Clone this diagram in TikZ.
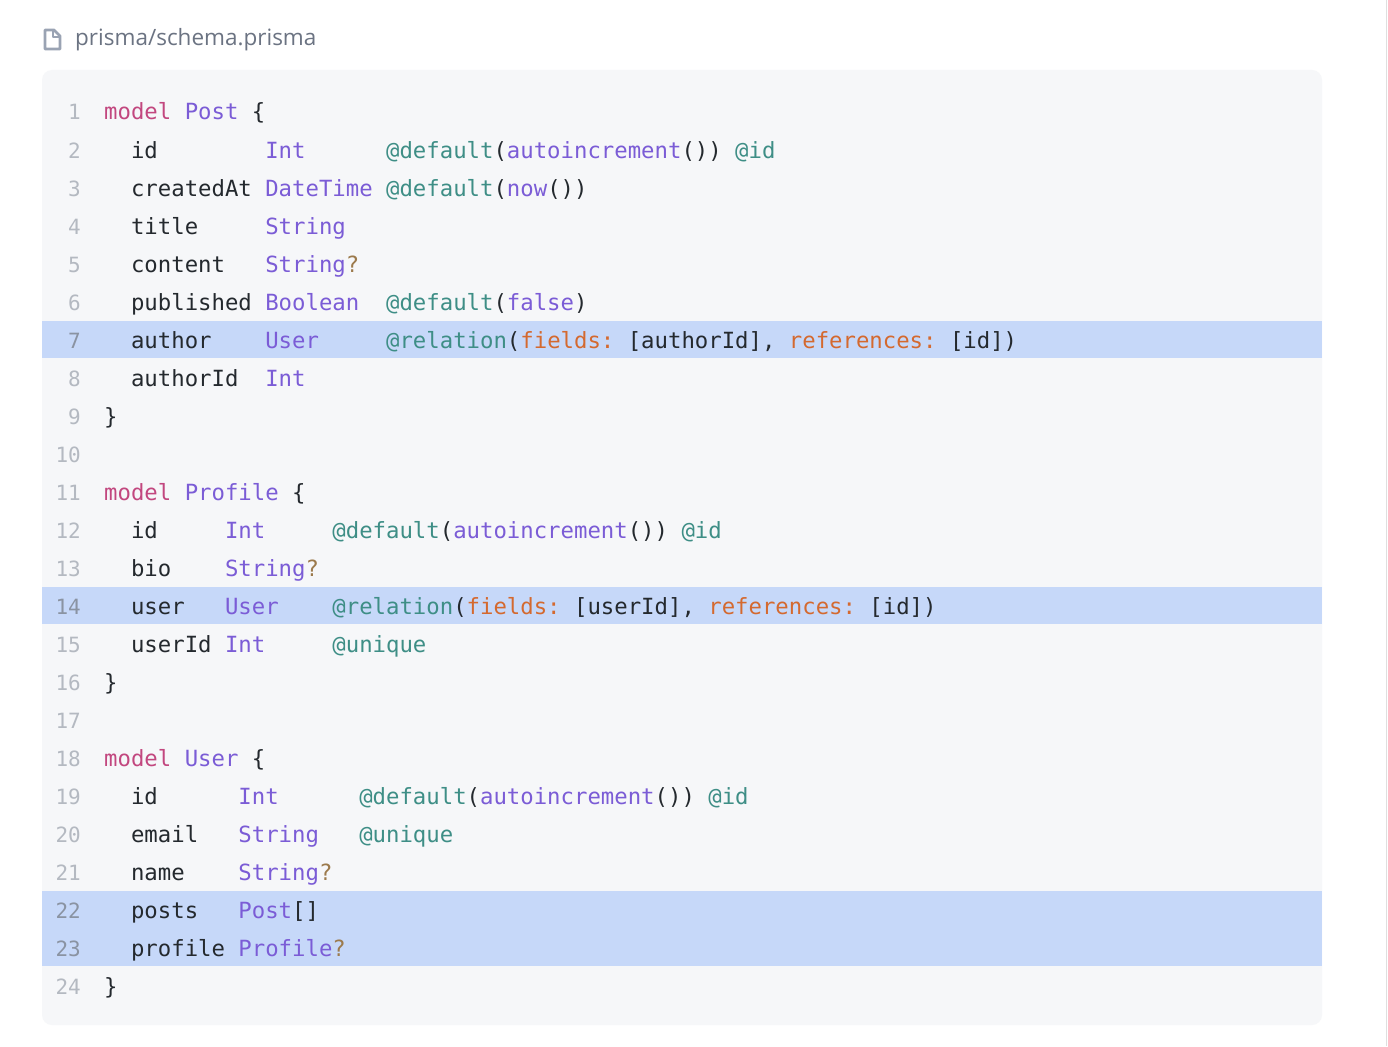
\documentclass[tikz,border=0pt]{standalone}
\usepackage{fontspec}
\setmainfont{Open Sans}
\setmonofont{DejaVu Sans Mono}
\definecolor{K}{HTML}{C2477F}
\definecolor{T}{HTML}{7B5CD6}
\definecolor{A}{HTML}{3E8E86}
\definecolor{F}{HTML}{D4692F}
\definecolor{Q}{HTML}{9C7A4C}
\definecolor{D}{HTML}{24292E}
\definecolor{N}{HTML}{B4B9C1}
\definecolor{NH}{HTML}{8A93A2}
\definecolor{HL}{HTML}{C6D8F9}
\definecolor{BG}{HTML}{F6F7F9}
\definecolor{HD}{HTML}{6B7382}
\definecolor{IC}{HTML}{9AA3B3}
\newcommand{\ck}[1]{\textcolor{K}{#1}}
\newcommand{\ct}[1]{\textcolor{T}{#1}}
\newcommand{\ca}[1]{\textcolor{A}{#1}}
\newcommand{\cf}[1]{\textcolor{F}{#1}}
\newcommand{\cq}[1]{\textcolor{Q}{#1}}
\tikzset{codeline/.style={anchor=base west,inner sep=0pt,font=\ttfamily\fontsize{22.3}{26}\selectfont,text=D},
lnum/.style={anchor=base east,inner sep=0pt,font=\ttfamily\fontsize{21}{26}\selectfont,text=N}}
\newcommand{\cl}[3][N]{\node[codeline] (c#2) at (104,{-112-38*(#2-1)-8}) {#3};
\node[lnum,text=#1] (n#2) at (81,{-112-38*(#2-1)-8}) {#2};}
\begin{document}
\begin{tikzpicture}[x=1pt,y=1pt]
\useasboundingbox (0,0) rectangle (1388,-1046);
\fill[white] (0,0) rectangle (1388,-1046);
\draw[gray!25,line width=1.5] (1386.5,0) -- (1386.5,-1046);
% header icon
\draw[color=IC,line width=2.8,line join=round] (45,-30) -- (54,-30) -- (60,-36) -- (60,-49) -- (45,-49) -- cycle;
\draw[color=IC,line width=2.8,line join=round] (53,-30) -- (53,-37) -- (60,-37);
\node[anchor=west,inner sep=0pt,font=\fontsize{22.5}{26}\selectfont,text=HD] (hdr) at (75,-40) {prisma/schema.prisma};
% box
\fill[BG,rounded corners=10] (42,-70) rectangle (1322,-1025);
\fill[HL] (42,-321) rectangle (1322,-358);
\fill[HL] (42,-587) rectangle (1322,-624);
\fill[HL] (42,-891) rectangle (1322,-966);
\cl{1}{\ck{model}~\ct{Post}~\{}
\cl{2}{~~id~~~~~~~~\ct{Int}~~~~~~\ca{@default}(\ct{autoincrement}())~\ca{@id}}
\cl{3}{~~createdAt~\ct{DateTime}~\ca{@default}(\ct{now}())}
\cl{4}{~~title~~~~~\ct{String}}
\cl{5}{~~content~~~\ct{String}\cq{?}}
\cl{6}{~~published~\ct{Boolean}~~\ca{@default}(\ct{false})}
\cl[NH]{7}{~~author~~~~\ct{User}~~~~~\ca{@relation}(\cf{fields:}~[authorId],~\cf{references:}~[id])}
\cl{8}{~~authorId~~\ct{Int}}
\cl{9}{\}}
\cl{10}{}
\cl{11}{\ck{model}~\ct{Profile}~\{}
\cl{12}{~~id~~~~~\ct{Int}~~~~~\ca{@default}(\ct{autoincrement}())~\ca{@id}}
\cl{13}{~~bio~~~~\ct{String}\cq{?}}
\cl[NH]{14}{~~user~~~\ct{User}~~~~\ca{@relation}(\cf{fields:}~[userId],~\cf{references:}~[id])}
\cl{15}{~~userId~\ct{Int}~~~~~\ca{@unique}}
\cl{16}{\}}
\cl{17}{}
\cl{18}{\ck{model}~\ct{User}~\{}
\cl{19}{~~id~~~~~~\ct{Int}~~~~~~\ca{@default}(\ct{autoincrement}())~\ca{@id}}
\cl{20}{~~email~~~\ct{String}~~~\ca{@unique}}
\cl{21}{~~name~~~~\ct{String}\cq{?}}
\cl[NH]{22}{~~posts~~~\ct{Post}[]}
\cl[NH]{23}{~~profile~\ct{Profile}\cq{?}}
\cl{24}{\}}
\end{tikzpicture}
\end{document}
